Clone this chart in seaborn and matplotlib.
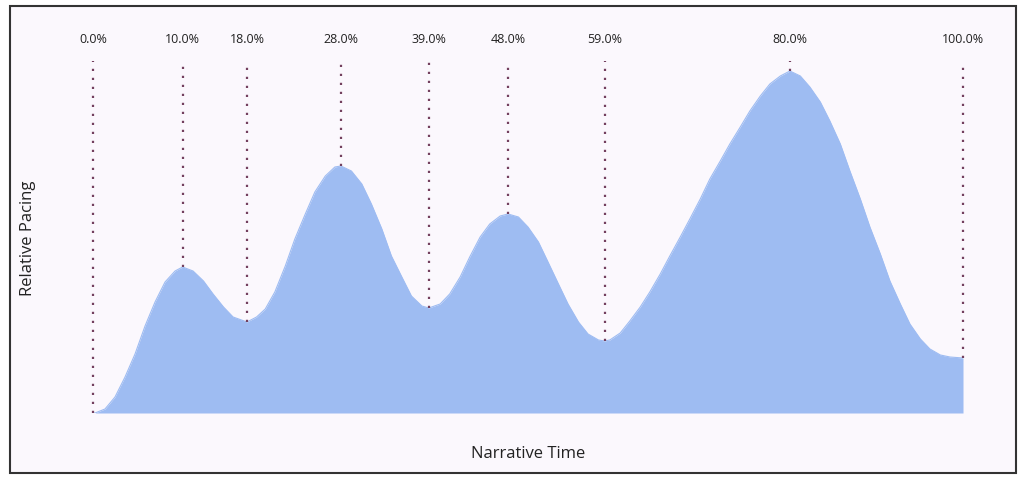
import matplotlib
matplotlib.use("Agg")
import matplotlib.pyplot as plt
import seaborn as sns
import pandas as pd
from matplotlib.patches import Rectangle

# curve (percent of narrative time, relative pacing)
time_pct = [0.0, 0.23, 1.38, 2.53, 3.68, 4.83, 5.98, 7.13, 8.28, 9.43, 10.3,
            11.5, 12.7, 13.8, 15.0, 16.1, 17.7, 18.8, 19.8, 20.9, 22.1, 23.2,
            24.4, 25.5, 26.7, 27.8, 28.5, 29.7, 30.9, 32.0, 33.2, 34.3, 35.5,
            36.6, 37.8, 38.6, 39.9, 41.0, 42.2, 43.3, 44.5, 45.6, 46.8, 47.7,
            48.9, 50.0, 51.2, 52.3, 53.5, 54.6, 55.8, 56.9, 58.1, 58.8, 59.4,
            60.6, 61.7, 62.9, 64.0, 65.2, 66.3, 67.5, 68.6, 69.8, 70.9, 72.1,
            73.2, 74.4, 75.5, 76.7, 77.8, 79.0, 80.1, 81.3, 82.4, 83.6, 84.7,
            85.9, 87.0, 88.2, 89.3, 90.5, 91.6, 92.8, 93.9, 95.1, 96.2, 97.4,
            98.5, 100.0]
pacing = [0, 0, 4, 16, 36, 59, 87, 111, 131, 142, 146,
          142, 132, 119, 106, 96, 91, 96, 104, 121, 147, 174,
          199, 221, 237, 246, 247, 242, 229, 209, 184, 157, 136,
          117, 107, 105, 109, 119, 136, 156, 176, 189, 197, 199,
          196, 186, 171, 151, 129, 109, 91, 79, 73, 72, 73,
          80, 92, 106, 121, 139, 157, 176, 194, 214, 234, 252,
          269, 286, 302, 317, 329, 337, 342, 337, 326, 311, 292,
          269, 242, 214, 186, 159, 132, 109, 89, 74, 64, 58,
          56, 55]

# marked beats (position, height, label)
beat_pos = [0.0, 10.3, 17.7, 28.5, 38.6, 47.7, 58.8, 80.1, 100.0]
beat_val = [0, 146, 91, 247, 105, 199, 72, 342, 55]
beat_labels = ["0.0%", "10.0%", "18.0%", "28.0%", "39.0%", "48.0%",
               "59.0%", "80.0%", "100.0%"]

bg = "#fbf8fd"
fill_col = "#9ebcf2"
line_col = "#73405e"

sns.set_theme(style="white")
plt.rcParams["font.family"] = ["Open Sans", "DejaVu Sans"]

df = pd.DataFrame({"time": time_pct, "pacing": pacing})

fig = plt.figure(figsize=(10.24, 4.81), dpi=100, facecolor="white")
fig.patches.append(Rectangle((10 / 1024, 7 / 481), 1006 / 1024, 467 / 481,
                             transform=fig.transFigure, facecolor=bg,
                             edgecolor="#333333", linewidth=1.5, zorder=-5))

ax = fig.add_axes([93 / 1024, (481 - 414) / 481, 870 / 1024, 352 / 481])
ax.patch.set_alpha(0)

sns.lineplot(data=df, x="time", y="pacing", ax=ax, color=fill_col, linewidth=0.8)
ax.fill_between(df["time"], 0, df["pacing"], color=fill_col, linewidth=0)

ax.set_xlim(0, 100)
ax.set_ylim(0, 352)

for p, v, lab in zip(beat_pos, beat_val, beat_labels):
    ax.vlines(p, v, 352, colors=line_col, linewidth=1.6,
              linestyles=(0, (1, 3.05)), zorder=3, clip_on=False)
    ax.text(p, 374, lab, ha="center", va="center", fontsize=9,
            color="#222222", clip_on=False)

ax.set_xticks([])
ax.set_yticks([])
for s in ax.spines.values():
    s.set_visible(False)

ax.set_xlabel("Narrative Time", fontsize=12, color="#222222", labelpad=23)
ax.set_ylabel("Relative Pacing", fontsize=12, color="#222222", labelpad=41)

fig.savefig("out.png", dpi=100, facecolor="white")
